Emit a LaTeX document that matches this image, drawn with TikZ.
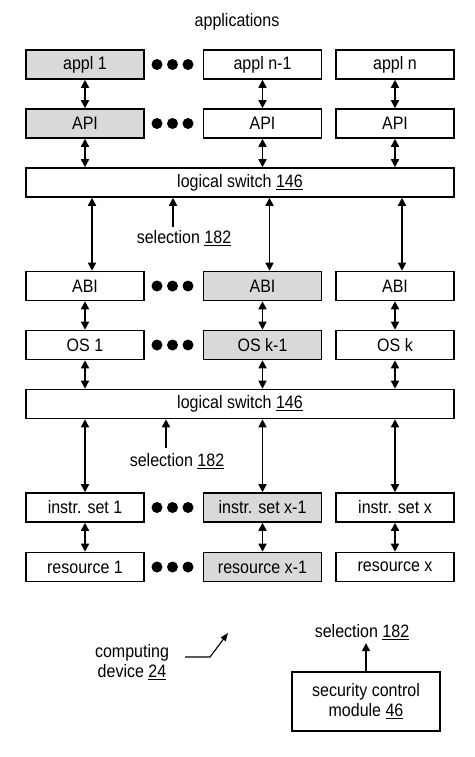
\documentclass[tikz,border=0pt]{standalone}
\usepackage{fontspec}
\setmainfont{Liberation Sans}[FakeStretch=0.89]
\usetikzlibrary{arrows.meta}
\newcommand{\lbl}{\fontsize{18}{20}\selectfont}
\tikzset{
    blk/.style={rectangle, draw, line width=1.6pt, minimum width=118pt, minimum height=29pt, inner sep=0pt, font=\lbl},
    shaded/.style={blk, fill=gray!30},
    swbox/.style={blk, minimum width=428pt},
    dbl/.style={{Triangle[length=8pt,width=8pt]}-{Triangle[length=8pt,width=8pt]}, line width=1.6pt},
    sel/.style={-{Triangle[length=8pt,width=8pt]}, line width=1.6pt},
    dot/.style={circle, fill, inner sep=0pt, minimum size=11pt}
}
\begin{document}
\begin{tikzpicture}[x=1pt, y=-1pt]
    \useasboundingbox (0,0) rectangle (474,757);
    \node(apps) [font=\lbl] at (237,22) {applications};
    % applications
    \node(appla) [shaded] at (85,64.5) {appl 1};
    \node(applb) [blk] at (262.5,64.5) {appl n-1};
    \node(applc) [blk] at (395,64.5) {appl n};
    \node(apia) [shaded] at (85,123.5) {API};
    \node(apib) [blk] at (262.5,123.5) {API};
    \node(apic) [blk] at (395,123.5) {API};
    \node(swa) [swbox] at (240,182.5) {logical switch \underline{146}};
    % operating systems
    \node(abia) [blk] at (85,286) {ABI};
    \node(abib) [shaded] at (262.5,286) {ABI};
    \node(abic) [blk] at (395,286) {ABI};
    \node(osa) [blk] at (85,345) {OS 1};
    \node(osb) [shaded] at (262.5,345) {OS k-1};
    \node(osc) [blk] at (395,345) {OS k};
    \node(swb) [swbox] at (240,404) {logical switch \underline{146}};
    % resources
    \node(insa) [blk] at (85,507.5) {instr. set 1};
    \node(insb) [shaded] at (262.5,507.5) {instr. set x-1};
    \node(insc) [blk] at (395,507.5) {instr. set x};
    \node(resa) [blk] at (85,567) {resource 1};
    \node(resb) [shaded] at (262.5,567) {resource x-1};
    \node(resc) [blk] at (395,567) {resource x};
    \foreach \row/\y in {r1/64.5, r2/123.5, r3/286, r4/345, r5/507.5, r6/567} {
        \foreach \k/\x in {1/157, 2/172.5, 3/188} {
            \node(dot\row\k) [dot] at (\x,\y) {};
        }
    }
    % short links
    \foreach \a/\b in {appla/apia, applb/apib, applc/apic, apia/swa, apib/swa, apic/swa,
                       abia/osa, abib/osb, abic/osc, osa/swb, osb/swb, osc/swb,
                       insa/resa, insb/resb, insc/resc} {
        \draw[dbl] (\a.south) -- (\a.south |- \b.north);
    }
    % long links
    \foreach \a in {abia, abib, abic} {
        \draw[dbl] ([xshift=7pt]\a.north |- swa.south) -- ([xshift=7pt]\a.north);
    }
    \foreach \a in {insa, insb, insc} {
        \draw[dbl] (\a.north |- swb.south) -- (\a.north);
    }
    % selections
    \node(sela) [font=\lbl] at (184,238) {selection \underline{182}};
    \coordinate(sa) at (173,227);
    \draw[sel] (sa) -- (sa |- swa.south);
    \node(selb) [font=\lbl] at (177,461) {selection \underline{182}};
    \coordinate(sb) at (166,448);
    \draw[sel] (sb) -- (sb |- swb.south);
    % device and security module
    \node(dev) [font=\lbl, align=center, inner sep=0pt] at (132,662) {computing\\device \underline{24}};
    \coordinate(devtip) at (228,633);
    \draw[-{Triangle[length=8pt,width=6pt]}, line width=1.1pt] (185,657) -- (210,657) -- (devtip);
    \node(scm) [blk, align=center, minimum width=148pt, minimum height=59pt] at (366,701.5) {security control\\module \underline{46}};
    \node(selc) [font=\lbl] at (362,632) {selection \underline{182}};
    \draw[sel] (scm.north) -- (scm.north |- selc.south);
\end{tikzpicture}
\end{document}
